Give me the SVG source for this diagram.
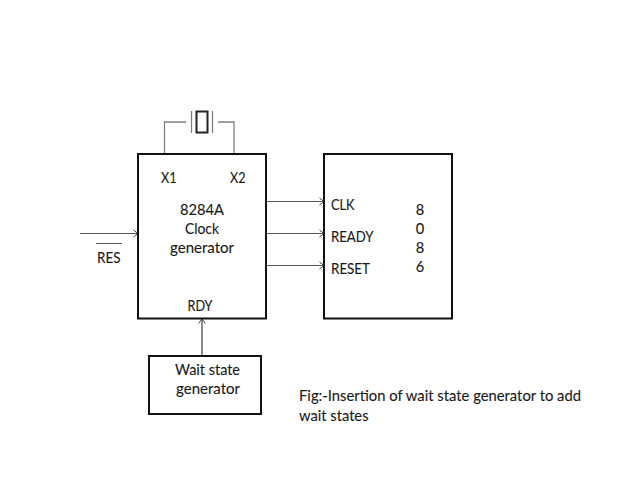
<svg xmlns="http://www.w3.org/2000/svg" width="638" height="478" viewBox="0 0 638 478">
<style>
text{font-family:Lato,"Liberation Sans",sans-serif;font-size:14.7px;fill:#1a1a1a;stroke:#1a1a1a;stroke-width:.12}
.m{text-anchor:middle}
.box{fill:#fff;stroke:#111;stroke-width:2}
.w{fill:none;stroke:#555;stroke-width:1}
.g{fill:none;stroke:#808080;stroke-width:1.3}
.u{fill:none;stroke:#666;stroke-width:1.500}
</style>
<defs>
<marker id="a" markerWidth="10" markerHeight="10" refX="8" refY="5" orient="auto" markerUnits="userSpaceOnUse"><path d="M3.500 1.500L8 5L3.500 8.500" fill="none" stroke="#444" stroke-width="1"/></marker>
</defs>
<rect width="638" height="478" fill="#fff"/>
<g id="connectors">
<path class="g" d="M164.500 153V122H186"/>
<path class="g" d="M234 153V122H218"/>
<path class="w" d="M80 233.500H138" marker-end="url(#a)"/>
<path class="w" d="M266 201.500H324" marker-end="url(#a)"/>
<path class="w" d="M266 233.500H324" marker-end="url(#a)"/>
<path class="w" d="M266 265.500H324" marker-end="url(#a)"/>
<path class="u" d="M202 356V319" marker-end="url(#a)"/>
</g>
<g id="crystal">
<path class="g" d="M191.500 111V133"/>
<path class="g" d="M212.500 111V133"/>
<rect x="196.500" y="111.500" width="11" height="21" fill="none" stroke="#222" stroke-width="2"/>
</g>
<g id="clock-generator">
<rect class="box" x="138" y="154" width="128" height="164.500"/>
<text x="161" y="183" textLength="15.500" lengthAdjust="spacingAndGlyphs">X1</text>
<text x="230" y="183" textLength="15.500" lengthAdjust="spacingAndGlyphs">X2</text>
<text class="m" x="202" y="215">8284A</text>
<text class="m" x="202" y="234" textLength="34" lengthAdjust="spacingAndGlyphs">Clock</text>
<text x="170" y="253" textLength="64" lengthAdjust="spacingAndGlyphs">generator</text>
<text x="187.500" y="310.500" textLength="25" lengthAdjust="spacingAndGlyphs">RDY</text>
</g>
<g id="res-label">
<path d="M96 243.500H122" stroke="#555" fill="none"/>
<text x="97" y="262.500" textLength="23.500" lengthAdjust="spacingAndGlyphs">RES</text>
</g>
<g id="cpu-8086">
<rect class="box" x="324" y="154" width="128" height="164.500"/>
<text x="331" y="209.500" textLength="23.500" lengthAdjust="spacingAndGlyphs">CLK</text>
<text x="331" y="241.500" textLength="42.500" lengthAdjust="spacingAndGlyphs">READY</text>
<text x="331" y="273.500" textLength="39" lengthAdjust="spacingAndGlyphs">RESET</text>
<text class="m" x="420" y="214.500">8</text>
<text class="m" x="420" y="233.500">0</text>
<text class="m" x="420" y="252.500">8</text>
<text class="m" x="420" y="271.500">6</text>
</g>
<g id="wait-state-generator">
<rect class="box" x="149" y="356" width="112" height="58"/>
<text x="175" y="374.500" textLength="65" lengthAdjust="spacingAndGlyphs">Wait state</text>
<text x="176" y="393.500" textLength="64" lengthAdjust="spacingAndGlyphs">generator</text>
</g>
<g id="caption">
<text x="299" y="401" textLength="282" lengthAdjust="spacingAndGlyphs">Fig:-Insertion of wait state generator to add</text>
<text x="299" y="420.500" textLength="69.500" lengthAdjust="spacingAndGlyphs">wait states</text>
</g>
</svg>
